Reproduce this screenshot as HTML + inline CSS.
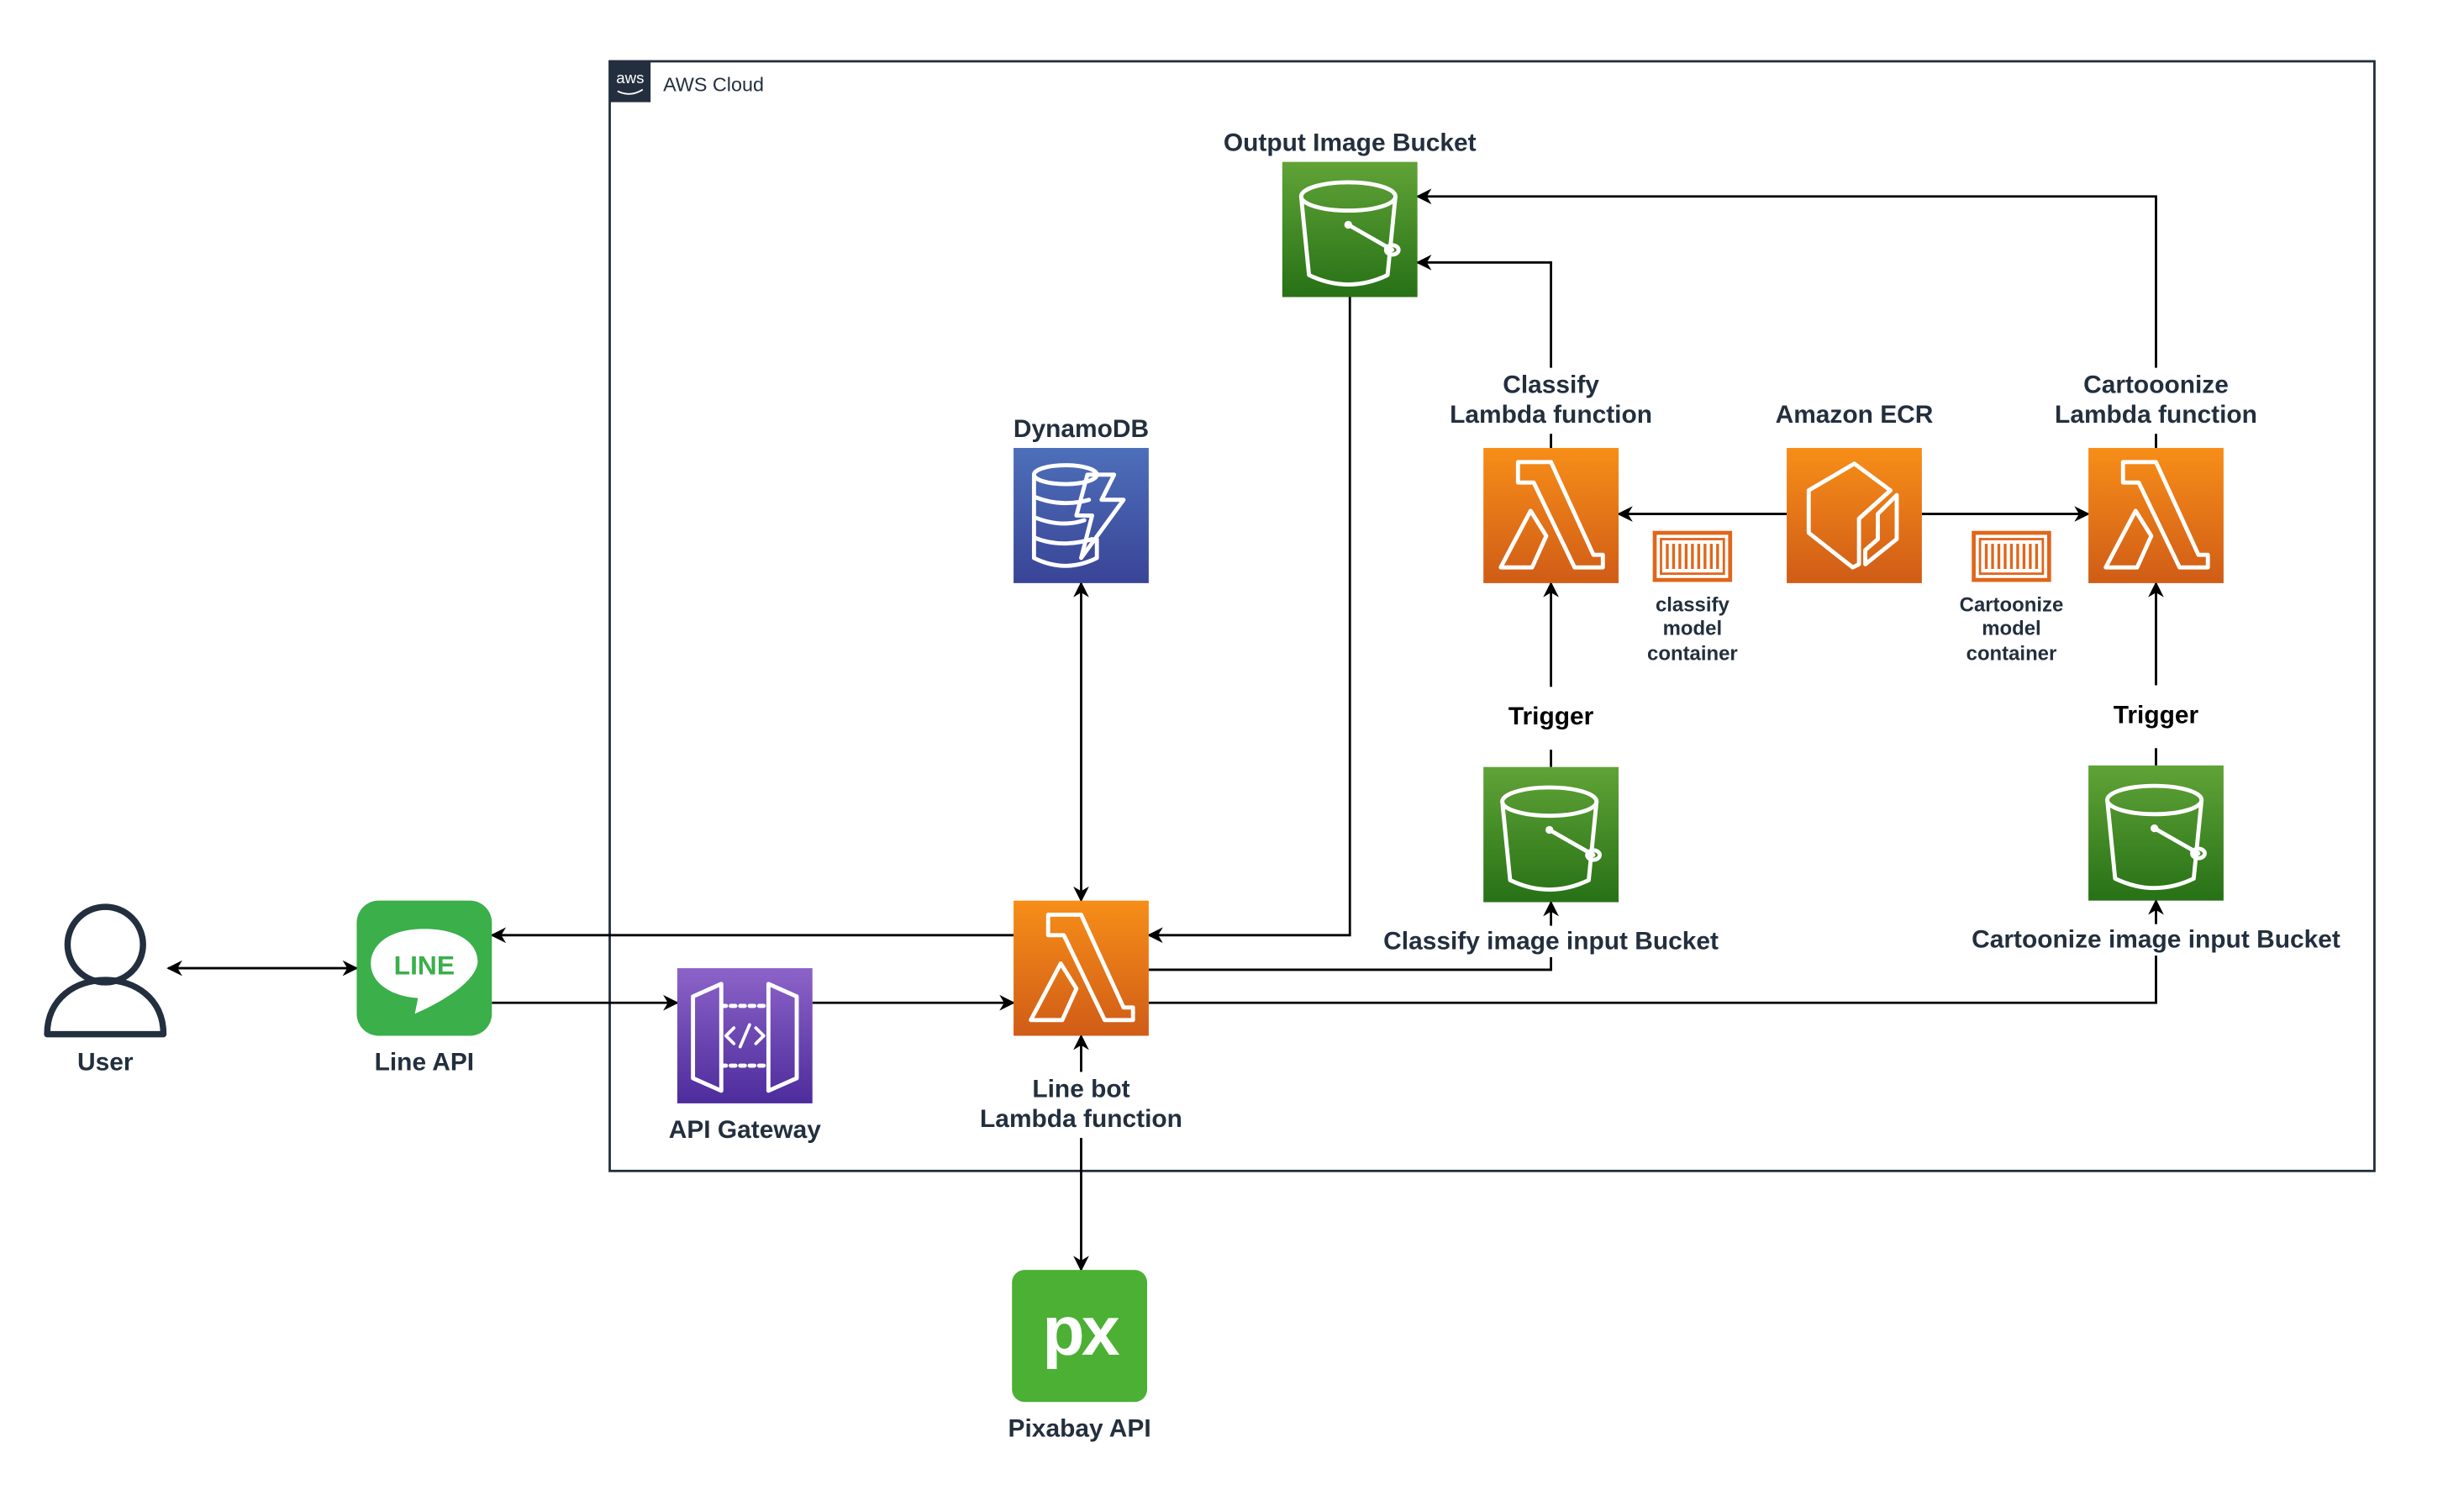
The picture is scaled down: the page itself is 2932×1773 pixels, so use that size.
<!DOCTYPE html>
<html><head><meta charset="utf-8">
<style>
html,body{margin:0;padding:0;background:#fff;}
svg{display:block;}
text{font-family:"Liberation Sans",Arial,sans-serif;fill:#232F3E;}
.lb{font-size:16px;font-weight:bold;text-anchor:middle;}
.sm{font-size:12.8px;font-weight:bold;text-anchor:middle;}
.ln{stroke:#000;stroke-width:1.5;fill:none;}
.ic{stroke:#fff;stroke-width:2.6;fill:none;stroke-linejoin:round;stroke-linecap:round;}
</style></head>
<body>
<svg width="2932" height="1773" viewBox="0 0 1568 948" preserveAspectRatio="none" xmlns="http://www.w3.org/2000/svg">
<defs>
<linearGradient id="gG" x1="0" y1="0" x2="0" y2="1"><stop offset="0" stop-color="#60A337"/><stop offset="1" stop-color="#277116"/></linearGradient>
<linearGradient id="gO" x1="0" y1="0" x2="0" y2="1"><stop offset="0" stop-color="#F78E18"/><stop offset="1" stop-color="#D05C17"/></linearGradient>
<linearGradient id="gB" x1="0" y1="0" x2="0" y2="1"><stop offset="0" stop-color="#4D6FBA"/><stop offset="1" stop-color="#3A4497"/></linearGradient>
<linearGradient id="gP" x1="0" y1="0" x2="0" y2="1"><stop offset="0" stop-color="#8C63C8"/><stop offset="1" stop-color="#4D2C9C"/></linearGradient>
<marker id="ar" viewBox="0 0 10 10" refX="9" refY="5" markerWidth="10" markerHeight="10" orient="auto-start-reverse" markerUnits="userSpaceOnUse"><path d="M0,0 L10,5 L0,10 L3,5 Z" fill="#000"/></marker>
<g id="bucket"><rect width="86" height="86" fill="url(#gG)"/>
<ellipse cx="42" cy="22" rx="30" ry="9" class="ic"/>
<path d="M12,22 L17,72 Q42,84 67,72 L72,22" class="ic"/>
<path d="M42,40 L70,56" class="ic"/><circle cx="42" cy="40" r="2.5" fill="#fff"/><ellipse cx="70" cy="56" rx="4" ry="3" class="ic"/></g>
<g id="lambda"><rect width="86" height="86" fill="url(#gO)"/>
<path d="M22,9 H43 L70,68 H76 V76 H58 L32,22 H22 Z" class="ic"/>
<path d="M30,40 L11,76 H31 L40,56 Z" class="ic"/></g>
<g id="cont"><rect x="1" y="1" width="48" height="30" fill="none" stroke="#E0661B" stroke-width="2.5"/>
<rect x="5" y="5" width="40" height="22" fill="none" stroke="#E0661B" stroke-width="1.5"/>
<path d="M9,8v16M13,8v16M17,8v16M21,8v16M25,8v16M29,8v16M33,8v16M37,8v16M41,8v16" stroke="#E0661B" stroke-width="1.8"/></g>
</defs>

<rect x="388" y="39" width="1123" height="706" fill="none" stroke="#232F3E" stroke-width="1.5"/>
<rect x="388" y="39" width="26" height="26" fill="#232F3E"/>
<text x="401" y="53" style="font-size:10px;fill:#fff;text-anchor:middle">aws</text>
<path d="M393,58 Q401,62 409,57" stroke="#fff" stroke-width="1" fill="none"/>
<text x="422" y="58" style="font-size:12.5px">AWS Cloud</text>

<path class="ln" d="M107,616 H227" marker-start="url(#ar)" marker-end="url(#ar)"/>
<path class="ln" d="M645,595 H313" marker-end="url(#ar)"/>
<path class="ln" d="M313,638 H431" marker-end="url(#ar)"/>
<path class="ln" d="M517,638 H645" marker-end="url(#ar)"/>
<path class="ln" d="M688,371 V573" marker-start="url(#ar)" marker-end="url(#ar)"/>
<path class="ln" d="M859,189 V595 H731" marker-end="url(#ar)"/>
<path class="ln" d="M731,617 H987 V574" marker-end="url(#ar)"/>
<path class="ln" d="M731,638 H1372 V573" marker-end="url(#ar)"/>
<path class="ln" d="M987,488 V371" marker-end="url(#ar)"/>
<path class="ln" d="M1372,487 V371" marker-end="url(#ar)"/>
<path class="ln" d="M987,285 V167 H902" marker-end="url(#ar)"/>
<path class="ln" d="M1372,285 V125 H902" marker-end="url(#ar)"/>
<path class="ln" d="M1137,327 H1030" marker-end="url(#ar)"/>
<path class="ln" d="M1223,327 H1329" marker-end="url(#ar)"/>
<path class="ln" d="M688,808 V659" marker-start="url(#ar)" marker-end="url(#ar)"/>

<rect x="916" y="234" width="144" height="42" fill="#fff"/>
<rect x="1301" y="234" width="144" height="42" fill="#fff"/>
<rect x="950" y="437" width="75" height="40" fill="#fff"/>
<rect x="1335" y="436" width="75" height="40" fill="#fff"/>
<rect x="872" y="589" width="230" height="20" fill="#fff"/>
<rect x="1248" y="588" width="250" height="20" fill="#fff"/>
<rect x="618" y="682" width="140" height="42" fill="#fff"/>

<use href="#bucket" x="816" y="103"/>
<text class="lb" x="859" y="96">Output Image Bucket</text>

<rect x="645" y="285" width="86" height="86" fill="url(#gB)"/>
<g class="ic" transform="translate(645,285)">
<ellipse cx="33" cy="17" rx="20" ry="6"/>
<path d="M13,17 V70 Q33,80 53,70 V58"/>
<path d="M13,31 Q30,38 48,33 M13,44 Q30,51 45,46 M13,57 Q30,64 50,58"/>
<path d="M47,17 H64 L56,33 H70 L43,70 L50,43 H40 Z"/>
</g>
<text class="lb" x="688" y="278">DynamoDB</text>

<use href="#lambda" x="944" y="285"/>
<text class="lb" x="987" y="250">Classify</text>
<text class="lb" x="987" y="269">Lambda function</text>

<rect x="1137" y="285" width="86" height="86" fill="url(#gO)"/>
<g class="ic" transform="translate(1137,285)">
<path d="M43,10 L66,27 L46,45 V74 L42,76 L14,54 V27 Z"/>
<path d="M46,45 L66,27"/>
<path d="M50,74 L70,58 V30 L58,42 V58 L50,65 Z"/>
</g>
<text class="lb" x="1180" y="269">Amazon ECR</text>

<use href="#lambda" x="1329" y="285"/>
<text class="lb" x="1372" y="250">Cartooonize</text>
<text class="lb" x="1372" y="269">Lambda function</text>

<use href="#cont" x="1052" y="338"/>
<text class="sm" x="1077" y="389">classify</text>
<text class="sm" x="1077" y="404">model</text>
<text class="sm" x="1077" y="420">container</text>
<use href="#cont" x="1255" y="338"/>
<text class="sm" x="1280" y="389">Cartoonize</text>
<text class="sm" x="1280" y="404">model</text>
<text class="sm" x="1280" y="420">container</text>

<text class="lb" x="987" y="461" style="fill:#000">Trigger</text>
<text class="lb" x="1372" y="460" style="fill:#000">Trigger</text>

<use href="#bucket" x="944" y="488"/>
<text class="lb" x="987" y="604">Classify image input Bucket</text>
<use href="#bucket" x="1329" y="487"/>
<text class="lb" x="1372" y="603">Cartoonize image input Bucket</text>

<use href="#lambda" x="645" y="573"/>
<text class="lb" x="688" y="698">Line bot</text>
<text class="lb" x="688" y="717">Lambda function</text>

<rect x="431" y="616" width="86" height="86" fill="url(#gP)"/>
<g class="ic" transform="translate(431,616)">
<path d="M10,18 L28,10 V78 L10,70 Z"/>
<path d="M76,18 L58,10 V78 L76,70 Z"/>
<path d="M28,24 H58 M28,62 H58" stroke-dasharray="3,3"/>
<path d="M36,38 L31,43 L36,48 M50,38 L55,43 L50,48 M46,36 L40,50" stroke-width="2"/>
</g>
<text class="lb" x="474" y="724">API Gateway</text>

<rect x="227" y="573" width="86" height="86" rx="14" fill="#3AAF4A"/>
<path d="M270,591 C245,591 236,603 236,613 C236,626 250,634 266,635 L264,645 C280,638 303,625 304,612 C304,600 292,591 270,591 Z" fill="#fff"/>
<text x="270" y="620" style="font-size:17px;font-weight:bold;fill:#3AAF4A;text-anchor:middle">LINE</text>
<text class="lb" x="270" y="681">Line API</text>

<circle cx="67" cy="601" r="24" fill="none" stroke="#232F3E" stroke-width="4"/>
<path d="M30,658 C30,612 104,612 104,658 Z" fill="none" stroke="#232F3E" stroke-width="4" stroke-linejoin="round"/>
<text class="lb" x="67" y="681">User</text>

<rect x="644" y="808" width="86" height="84" rx="8" fill="#4BB034"/>
<text x="687" y="862" style="font-size:44px;font-weight:bold;fill:#fff;text-anchor:middle;letter-spacing:-2px">px</text>
<text class="lb" x="687" y="914">Pixabay API</text>
</svg>
</body></html>
